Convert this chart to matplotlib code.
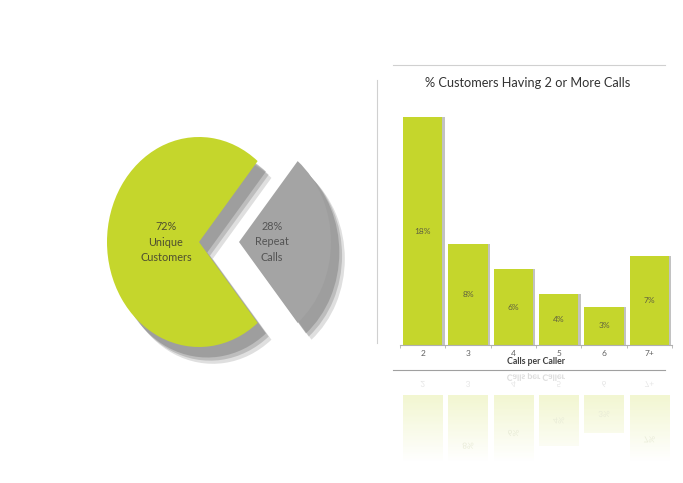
import numpy as np
import matplotlib.pyplot as plt
from matplotlib.lines import Line2D
from matplotlib.textpath import TextPath
from matplotlib.patches import PathPatch
from matplotlib.font_manager import FontProperties
from matplotlib.transforms import Affine2D, IdentityTransform

plt.rcParams['font.family'] = ['Lato', 'DejaVu Sans']

# pie: unique customers vs repeat calls
pie_values = [72, 28]
pie_labels = ['72%\nUnique\nCustomers', '28%\nRepeat\nCalls']

# bars: % of customers by calls per caller
calls = ['2', '3', '4', '5', '6', '7+']
pct = [18, 8, 6, 4, 3, 7]

green = '#c5d62c'
grey = '#a4a4a4'
W, H = 683, 483

fig = plt.figure(figsize=(6.83, 4.83), dpi=100)


def px_axes(x0, y0, x1, y1):
    # box in image pixels (y downwards) -> figure axes
    return fig.add_axes([x0 / W, 1 - y1 / H, (x1 - x0) / W, (y1 - y0) / H])


def hline(x0, x1, y, color='#d0d0d0', lw=0.8):
    fig.add_artist(Line2D([x0 / W, x1 / W], [1 - y / H] * 2,
                          transform=fig.transFigure, color=color, lw=lw))


def mirrored_text(s, xd, yd, size, color, weight='normal'):
    # upside-down text at display position (xd, yd), used for the reflection
    tp = TextPath((0, 0), s, size=size * 100 / 72,
                  prop=FontProperties(family='Lato', weight=weight))
    bb = tp.get_extents()
    tr = (Affine2D().translate(-(bb.x0 + bb.x1) / 2, -(bb.y0 + bb.y1) / 2)
          .scale(1, -1).translate(xd, yd))
    fig.add_artist(PathPatch(tr.transform_path(tp), transform=IdentityTransform(),
                             facecolor=color, edgecolor='none'))


# ---- pie ----
ax = px_axes(79.4, 105.5, 364.6, 378.5)
start = pie_values[1] / sum(pie_values) * 360 / 2
for k, a in enumerate([0.25, 0.35, 0.5]):
    off = 0.03 * (2 - k)
    ax.pie(pie_values, startangle=start, explode=[0, 0.435],
           center=(0.09 + off, -0.10 - off), colors=['#808080'] * 2,
           wedgeprops=dict(alpha=a, linewidth=0))
wedges, texts = ax.pie(pie_values, startangle=start, explode=[0, 0.435],
                       colors=[green, grey], labels=pie_labels, labeldistance=0.36,
                       wedgeprops=dict(linewidth=0))
for t, c in zip(texts, ['#4e4e30', '#545454']):
    t.set_ha('center')
    t.set_va('center')
    t.set_fontsize(7.8)
    t.set_color(c)
    t.set_linespacing(1.55)
ax.set_aspect('auto')
ax.set_xlim(-1.3, 1.8)
ax.set_ylim(-1.3, 1.3)
ax.axis('off')

# ---- bar chart ----
hline(393, 665, 65)
hline(393, 665, 370, color='#a0a0a0')
fig.add_artist(Line2D([377 / W] * 2, [1 - 80 / H, 1 - 343 / H],
                      transform=fig.transFigure, color='#d0d0d0', lw=0.8))
fig.text(528 / W, 1 - 83 / H, '% Customers Having 2 or More Calls',
         ha='center', va='center', fontsize=9.2, color='#333333')

bx = px_axes(400, 117, 672, 345)
x = np.arange(len(calls))
bx.bar(x + 0.05, pct, width=0.87, color='#9a9a9a', alpha=0.6, zorder=1)
bars = bx.bar(x, pct, width=0.87, color=green, zorder=2)
bx.bar_label(bars, labels=[f'{v}%' for v in pct], label_type='center',
             fontsize=6, color='#5f5f40')
bx.set_xlim(-0.5, 5.5)
bx.set_ylim(0, 18)
for s in ['top', 'right', 'left']:
    bx.spines[s].set_visible(False)
bx.spines['bottom'].set_color('#b0b0b0')
bx.spines['bottom'].set_linewidth(0.8)
bx.set_yticks([])
bx.set_xticks(x)
bx.set_xticklabels(calls, fontsize=6, color='#606060')
bx.tick_params(axis='x', length=0, pad=3.5)
bx.set_xticks(np.arange(-0.5, 6, 1), minor=True)
bx.tick_params(axis='x', which='minor', length=2, color='#b0b0b0')
bx.set_xlabel('Calls per Caller', fontsize=6.3, color='#404040',
              fontweight='bold', labelpad=0)

# ---- reflection ----
rx = px_axes(400, 395, 672, 483)
fade = 5.3
for i, v in enumerate(pct):
    ys = np.linspace(0, v, 200)
    img = np.zeros((200, 1, 4))
    img[:, 0, :3] = [0.77, 0.84, 0.17]
    img[:, 0, 3] = np.clip(0.22 * (1 - ys / fade), 0, None)
    rx.imshow(img, extent=(i - 0.435, i + 0.435, 0, v), origin='lower',
              aspect='auto', interpolation='bilinear')
rx.set_xlim(-0.5, 5.5)
rx.set_ylim(88 / 12.67, 0)
rx.axis('off')

# faint mirrored labels
for i, (c, v) in enumerate(zip(calls, pct)):
    xd, _ = rx.transData.transform((i, 0))
    mirrored_text(c, xd, H - 384, 6, '#e6e6e6')
    _, yd = rx.transData.transform((i, v / 2))
    if yd > 20:
        mirrored_text(f'{v}%', xd, yd, 6, '#e9ecd8')
mirrored_text('Calls per Caller', 536, H - 377, 6.3, '#dcdcdc', weight='bold')

fig.savefig('out.png', dpi=100)
